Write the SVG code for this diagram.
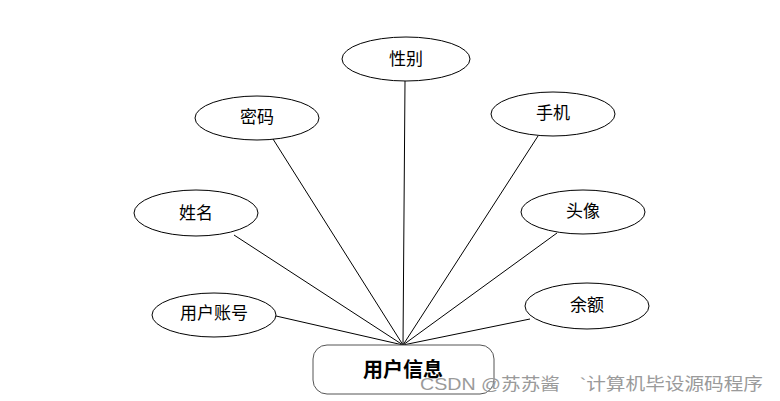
<svg xmlns="http://www.w3.org/2000/svg" width="780" height="401" viewBox="0 0 780 401">
<style>
.n ellipse{fill:#fff;stroke:#000;stroke-width:1}
.n text{font-family:"Liberation Serif","Noto Sans CJK SC",serif;font-size:17px;text-anchor:middle;dominant-baseline:central;fill:#000}
#edges line{stroke:#000;stroke-width:1}
.wm{font-family:"Liberation Sans","Noto Sans CJK SC",sans-serif;font-size:17px;fill:#9a9a9a}
</style>
<rect width="780" height="401" fill="#fff"/>
<g id="edges">
<line x1="405" y1="81" x2="403" y2="345"/>
<line x1="273" y1="139" x2="403" y2="345"/>
<line x1="538" y1="136" x2="403" y2="345"/>
<line x1="234" y1="235" x2="403" y2="345"/>
<line x1="557" y1="233" x2="403" y2="345"/>
<line x1="276" y1="316" x2="403" y2="345"/>
<line x1="530" y1="319" x2="403" y2="345"/>
</g>
<g id="n-xingbie" class="n"><ellipse cx="406" cy="59" rx="64" ry="22"/><text x="406" y="59">性别</text></g>
<g id="n-mima" class="n"><ellipse cx="257" cy="118" rx="62" ry="22"/><text x="257" y="117">密码</text></g>
<g id="n-shouji" class="n"><ellipse cx="553" cy="114" rx="62" ry="22"/><text x="553" y="113">手机</text></g>
<g id="n-xingming" class="n"><ellipse cx="196" cy="213" rx="62" ry="23"/><text x="196" y="213">姓名</text></g>
<g id="n-touxiang" class="n"><ellipse cx="583" cy="212" rx="62" ry="22"/><text x="583" y="211">头像</text></g>
<g id="n-zhanghao" class="n"><ellipse cx="214" cy="315" rx="62" ry="22"/><text x="214" y="313">用户账号</text></g>
<g id="n-yue" class="n"><ellipse cx="587" cy="306" rx="62" ry="23"/><text x="587" y="305">余额</text></g>
<g id="n-user">
<rect x="313" y="345" width="181" height="49" rx="14" ry="14" fill="#fff" stroke="#555" stroke-width="1"/>
<text x="403" y="370" font-family="Liberation Serif,'Noto Sans CJK SC',serif" font-size="20" font-weight="bold" text-anchor="middle" dominant-baseline="central">用户信息</text>
</g>
<text class="wm" x="420" y="390" textLength="343" lengthAdjust="spacingAndGlyphs">CSDN @苏苏酱　`计算机毕设源码程序</text>
</svg>
